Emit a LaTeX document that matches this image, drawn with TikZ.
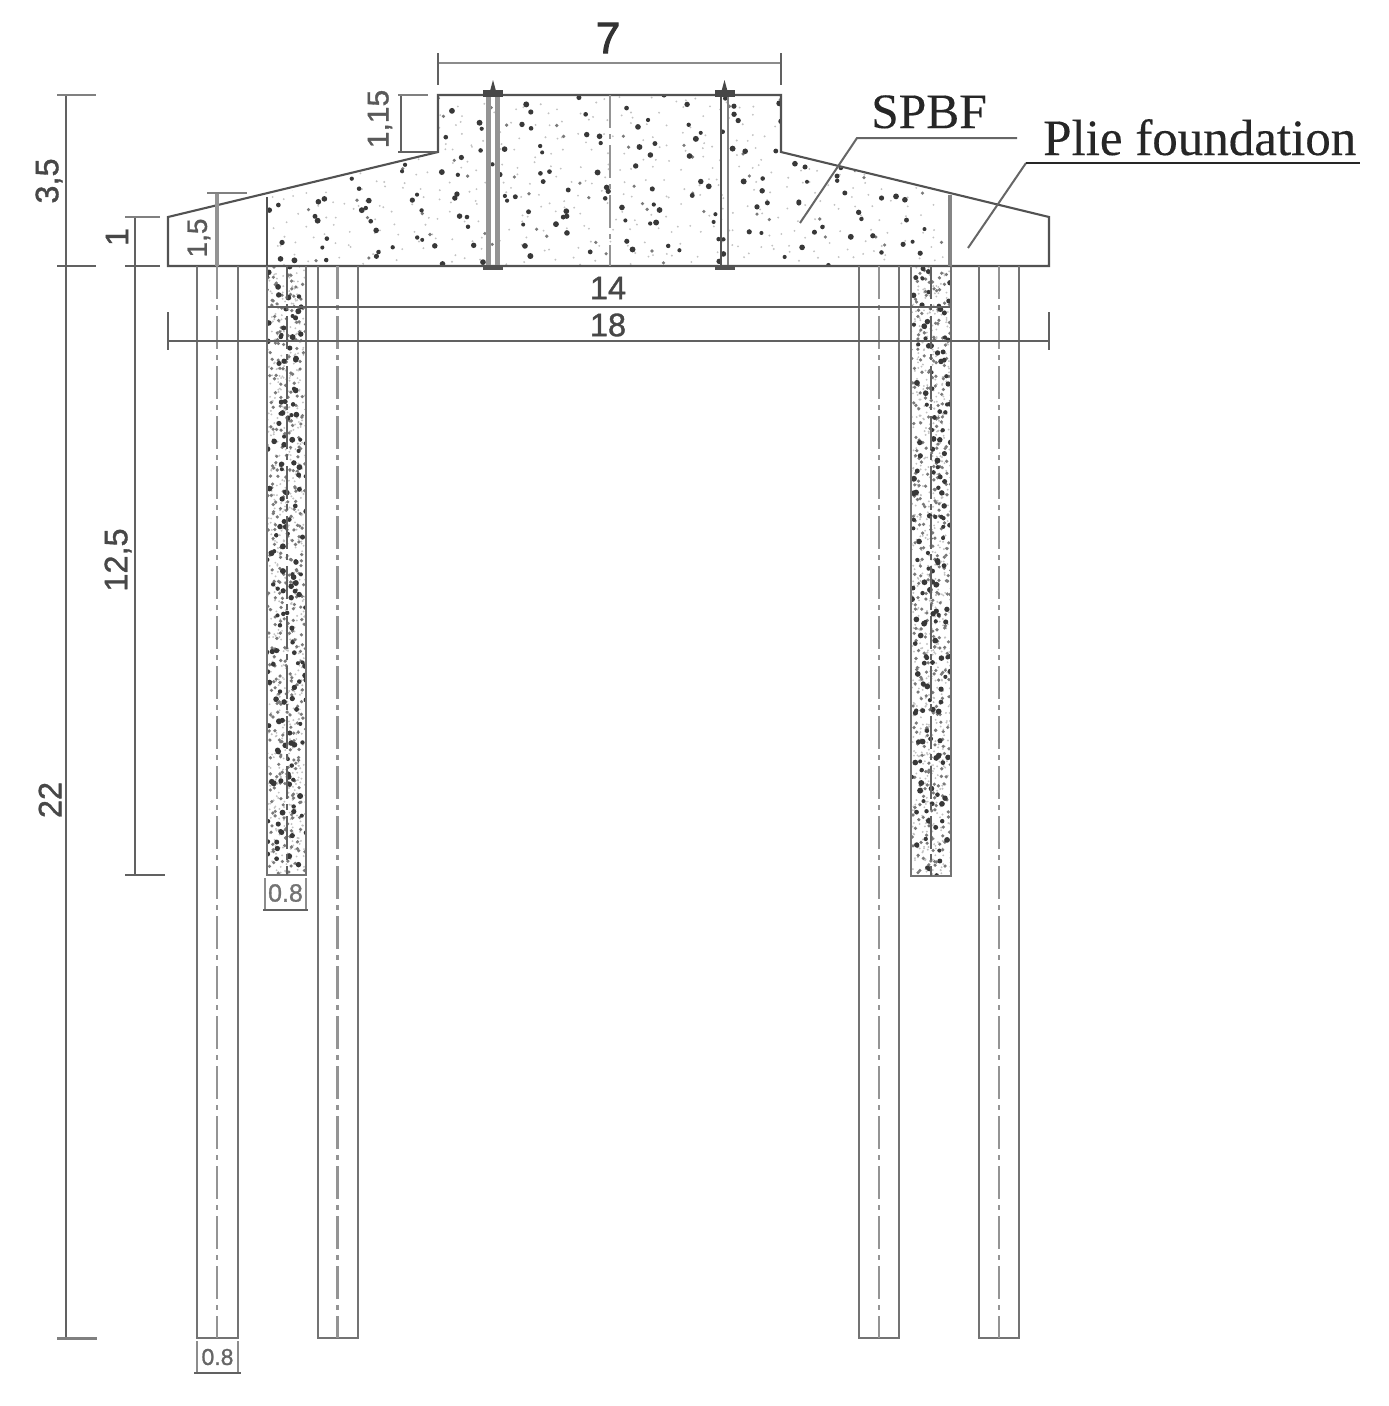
\documentclass[tikz,border=0pt]{standalone}
\usepackage{fontspec}
\setmainfont{Liberation Serif}
\newfontfamily\dimfont[FakeBold=1.1]{Liberation Sans}
\newfontfamily\dimfontb[FakeBold=2.2]{Liberation Sans}
\newfontfamily\serfont[FakeBold=0.25]{Liberation Serif}
\tikzset{
  x=1pt,y=-1pt,
  outl/.style={draw=black!68,line width=2.1pt,line join=miter},
  pile/.style={draw=black!55,line width=2.6pt,line join=miter},
  dimln/.style={draw=black!62,line width=2pt},
  thinbox/.style={draw=black!45,line width=1.6pt},
  axisln/.style={draw=black!42,line width=2.5pt,dash pattern=on 33pt off 6pt on 5pt off 6pt},
  axisdark/.style={draw=black!62,line width=2pt,dash pattern=on 33pt off 5pt on 6pt off 6pt},
  leader/.style={draw=black!60,line width=2pt},
  dimlab/.style={font=\dimfont\fontsize{32.5}{32.5}\selectfont,text=black!72,inner sep=0pt},
  serlab/.style={font=\serfont\fontsize{49.5}{49.5}\selectfont,text=black!85,inner sep=0pt,anchor=base west},
}
% x0 y0 w h nSmall nMedium nBig
\newcommand{\speckle}[7]{%
  \foreach \i in {1,...,#5}{
    \pgfmathsetmacro{\px}{#1+#3*mod(\i*0.7548776,1)+(rnd-0.5)*14}
    \pgfmathsetmacro{\py}{#2+#4*mod(\i*0.5698403,1)+(rnd-0.5)*14}
    \fill[black!24] (\px,\py) circle[radius=1.05];
  }
  \foreach \i in {1,...,#6}{
    \pgfmathsetmacro{\px}{#1+#3*mod(\i*0.6180339+0.3,1)+(rnd-0.5)*10}
    \pgfmathsetmacro{\py}{#2+#4*mod(\i*0.4142136+0.7,1)+(rnd-0.5)*10}
    \fill[black!52] (\px,\py) circle[radius=1.8];
  }
  \foreach \i in {1,...,#7}{
    \pgfmathsetmacro{\px}{#1+#3*mod(\i*0.7548776+0.41,1)+(rnd-0.5)*22}
    \pgfmathsetmacro{\py}{#2+#4*mod(\i*0.5698403+0.17,1)+(rnd-0.5)*22}
    \pgfmathsetmacro{\pr}{2+rnd*1}
    \fill[black!78] (\px,\py) circle[radius=\pr];
  }
}
\begin{document}
\begin{tikzpicture}
\useasboundingbox (0,0) rectangle (1389,1406);
\pgfmathsetseed{4711}
% concrete speckle of SPBF
\begin{scope}
  \clip (267,197) -- (438,152) -- (438,95) -- (781,95) -- (781,152) -- (950,196) -- (950,266) -- (267,266) -- cycle;
  \speckle{267}{95}{683}{171}{520}{70}{210}
\end{scope}
\begin{scope}
  \clip (267,266) rectangle (306,875);
  \speckle{267}{266}{39}{609}{700}{360}{170}
\end{scope}
\begin{scope}
  \clip (911,266) rectangle (951,876);
  \speckle{911}{266}{40}{610}{700}{360}{170}
\end{scope}
% body outline
\draw[outl] (438,95) -- (781,95) -- (781,152) -- (1049,217) -- (1049,266) -- (168,266) -- (168,217) -- (438,152) -- cycle;
\draw[outl] (267,197) -- (267,266);
\draw[pile,line width=3.4pt,draw=black!48] (950,195) -- (950,266);
% mid axis
\draw[axisln] (610,95) -- (610,266);
% bolts
\draw[draw=black!42,line width=5pt] (488,95) -- (488,268);
\draw[draw=black!42,line width=5pt] (497,95) -- (497,268);
\draw[draw=black!68,line width=2.6pt] (721,95) -- (721,268);
\draw[draw=black!50,line width=2.6pt] (728,95) -- (728,268);
\foreach \bx in {493,724.5}{
  \fill[black!72] (\bx-10,90) rectangle (\bx+10,97);
  \fill[black!72] (\bx-3,91) -- (\bx,80) -- (\bx+3,91) -- cycle;
  \fill[black!68] (\bx-10,265) rectangle (\bx+10,270);
}
% piles
\foreach \pa/\pb/\pc in {197/217/238,318/337.5/358,859/879/899,979/999/1019}{
  \draw[pile] (\pa,266) -- (\pa,1338) -- (\pc,1338) -- (\pc,266);
  \draw[axisln] (\pb,266) -- (\pb,1338);
}
% concrete columns
\draw[pile] (267,266) -- (267,875) -- (306,875) -- (306,266);
\draw[pile] (911,266) -- (911,876) -- (951,876) -- (951,266);
\draw[axisdark] (286.5,266) -- (286.5,875);
\draw[axisdark] (931,266) -- (931,876);
% dimension lines
\draw[dimln,draw=black!45,line width=2.6pt] (438,63) -- (781,63);
\draw[dimln] (438,53) -- (438,85);
\draw[dimln] (781,53) -- (781,85);
\draw[dimln] (66,95) -- (66,1338);
\draw[dimln,draw=black!50] (57,95) -- (96,95);
\draw[dimln] (57,266) -- (96,266);
\draw[dimln,draw=black!50,line width=3pt] (57,1338) -- (97,1338);
\draw[dimln] (135,217) -- (135,875);
\draw[dimln,draw=black!50] (125,217) -- (160,217);
\draw[dimln] (125,266) -- (160,266);
\draw[dimln] (125,875) -- (165,875);
\draw[dimln,draw=black!42,line width=3.2pt] (217,193) -- (217,266);
\draw[dimln,draw=black!50] (207,193) -- (247,193);
\draw[dimln] (401,95) -- (401,152);
\draw[dimln,draw=black!50] (398,95) -- (428,95);
\draw[dimln] (398,152) -- (437,152);
\draw[dimln] (267,307) -- (950,307);
\draw[dimln] (168,341) -- (1049,341);
\draw[dimln] (168,312) -- (168,350);
\draw[dimln] (1049,312) -- (1049,350);
% width boxes
\draw[thinbox] (265,878) -- (265,910);
\draw[thinbox] (306,878) -- (306,910);
\draw[dimln] (263,910) -- (308,910);
\draw[thinbox] (197,1341) -- (197,1373);
\draw[thinbox] (238,1341) -- (238,1373);
\draw[dimln] (194,1373) -- (241,1373);
% dimension labels
\node[dimlab,text=black!80] (d7) at (608,38) {\dimfontb\fontsize{44}{44}\selectfont 7};
\node[dimlab,rotate=90] (d35) at (49,181) {3,5};
\node[dimlab,rotate=90] (d22) at (50,800) {22};
\node[dimlab,rotate=90] (d1) at (117,237) {1};
\node[dimlab,rotate=90] (d125) at (118,560) {12,5};
\node[dimlab,rotate=90,text=black!65] (d15) at (199,238) {\fontsize{28}{28}\selectfont 1,5};
\node[dimlab,rotate=90,text=black!65] (d115) at (380,119) {\fontsize{30}{30}\selectfont 1,15};
\node[dimlab] (d14) at (608,288) {14};
\node[dimlab] (d18) at (608,325) {18};
\node[dimlab,text=black!55] (b1) at (285.5,893) {\fontsize{25}{25}\selectfont 0.8};
\node[dimlab,text=black!60] (b2) at (217.5,1357) {\fontsize{23}{23}\selectfont 0.8};
% callouts
\node[serlab] (spbf) at (871,128) {SPBF};
\node[serlab,font=\serfont\fontsize{51}{51}\selectfont] (plie) at (1043,155) {Plie foundation};
\coordinate (spa) at (800,223);
\coordinate (spb) at (857,138);
\coordinate (spc) at (1017,138);
\coordinate (pla) at (968,248);
\coordinate (plb) at (1026,163);
\coordinate (plc) at (1360,163);
\draw[leader] (spa) -- (spb) -- (spc);
\draw[leader] (pla) -- (plb);
\draw[leader,draw=black!85,line width=2.4pt] (plb) -- (plc);
\end{tikzpicture}
\end{document}
